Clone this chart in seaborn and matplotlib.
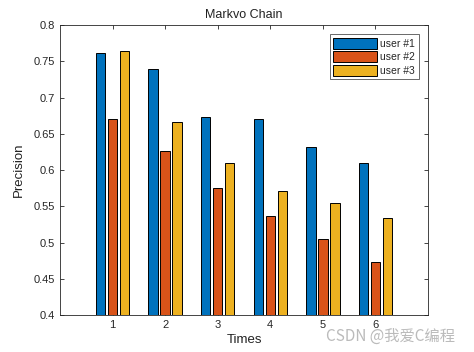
import pandas as pd
import matplotlib
matplotlib.use("Agg")
import matplotlib.pyplot as plt
import seaborn as sns

# values
times = [1, 2, 3, 4, 5, 6]
users = ["user #1", "user #2", "user #3"]
user1 = [0.761, 0.739, 0.673, 0.670, 0.632, 0.610]
user2 = [0.670, 0.626, 0.575, 0.537, 0.505, 0.473]
user3 = [0.764, 0.666, 0.609, 0.571, 0.554, 0.534]
yticks = [0.4, 0.45, 0.5, 0.55, 0.6, 0.65, 0.7, 0.75, 0.8]
ytick_labels = ["0.4", "0.45", "0.5", "0.55", "0.6", "0.65", "0.7", "0.75", "0.8"]

df = pd.DataFrame({
    "Times": times * 3,
    "Precision": user1 + user2 + user3,
    "User": [u for u in users for _ in times],
})

sns.set_style("ticks")
plt.rcParams["font.family"] = ["Liberation Sans", "DejaVu Sans"]

fig = plt.figure(figsize=(4.74, 3.52), dpi=100)
ax = fig.add_axes([0.1266, 0.105, 0.9030 - 0.1266, 0.929 - 0.105])

# MATLAB default colour order
palette = ["#0072BD", "#D95319", "#EDB120"]
sns.barplot(data=df, x="Times", y="Precision", hue="User", palette=palette,
            width=0.684, gap=0.21, edgecolor="black", linewidth=0.7,
            saturation=1, ax=ax)

ax.set_ylim(0.4, 0.8)
ax.set_xlim(-1, 6)
ax.set_yticks(yticks)
ax.set_yticklabels(ytick_labels)
ax.set_xticks(range(len(times)))
ax.set_xticklabels([str(t) for t in times])

ax.set_title("Markvo Chain", fontsize=9, color="#222222", pad=5)
ax.set_xlabel("Times", fontsize=9.5, color="#222222", labelpad=3)
ax.set_ylabel("Precision", fontsize=9.5, color="#222222", labelpad=6)

ax.tick_params(direction="in", length=3, width=0.6, colors="#262626",
               labelsize=8, top=True, right=True)
for s in ax.spines.values():
    s.set_visible(True)
    s.set_color("#262626")
    s.set_linewidth(0.6)

leg = ax.legend(loc="upper right", fontsize=7.5, frameon=True, fancybox=False,
                edgecolor="#262626", handlelength=4.2, handleheight=1.2,
                handletextpad=0.3, borderpad=0.35, labelspacing=0.25,
                borderaxespad=0.9)
leg.get_frame().set_linewidth(0.6)

# watermark from the source page
fig.text(0.688, 0.045, "CSDN @我爱C编程", fontsize=11, color="#bbbbbb",
         family=["Noto Sans CJK SC", "DejaVu Sans"], va="center")

fig.savefig("out.png", dpi=100)
